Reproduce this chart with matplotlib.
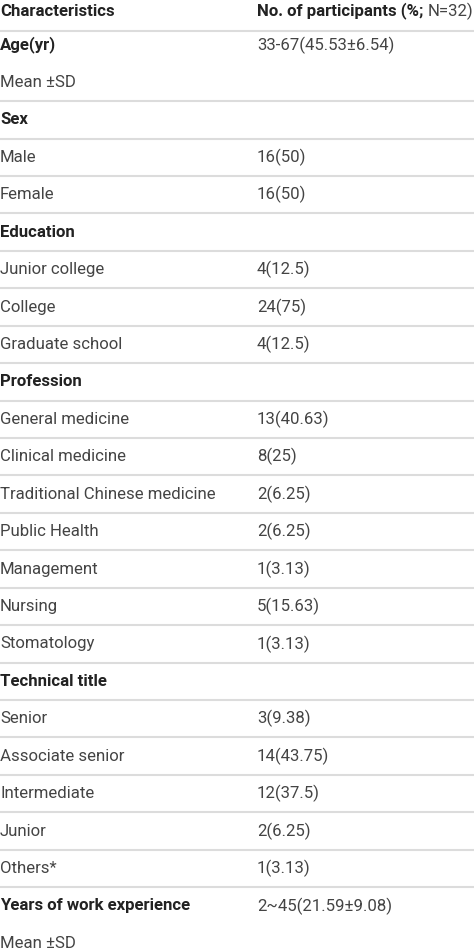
import matplotlib
matplotlib.use("Agg")
import matplotlib.pyplot as plt

plt.rcParams['font.family'] = ['Roboto', 'DejaVu Sans']

labels = ["Age(yr)", "Mean ±SD", "Sex", "Male", "Female", "Education",
          "Junior college", "College", "Graduate school", "Profession",
          "General medicine", "Clinical medicine", "Traditional Chinese medicine",
          "Public Health", "Management", "Nursing", "Stomatology",
          "Technical title", "Senior", "Associate senior", "Intermediate",
          "Junior", "Others*", "Years of work experience", "Mean ±SD"]
values = ["33-67(45.53±6.54)", "", "", "16(50)", "16(50)", "",
          "4(12.5)", "24(75)", "4(12.5)", "",
          "13(40.63)", "8(25)", "2(6.25)", "2(6.25)", "1(3.13)", "5(15.63)", "1(3.13)",
          "", "3(9.38)", "14(43.75)", "12(37.5)", "2(6.25)", "1(3.13)",
          "2~45(21.59±9.08)", ""]
bold_rows = {"Age(yr)", "Sex", "Education", "Profession", "Technical title",
             "Years of work experience"}

W, H = 474, 950
fig = plt.figure(figsize=(W / 100, H / 100), dpi=100)
ax = fig.add_axes([0, 0, 1, 1])
ax.set_xlim(0, W)
ax.set_ylim(H, 0)
ax.axis("off")

fs = 12.1
x1, x2 = 0, 257
line_c = "#dcdcdc"

ax.text(x1, 11, "Characteristics", fontsize=fs, fontweight="bold", color="#222222", va="center")
t = ax.text(x2, 11, "No. of participants (%; ", fontsize=fs, fontweight="bold", color="#222222", va="center")
fig.canvas.draw()
bb = t.get_window_extent()
ax.text(bb.x1, 11, "N=32)", fontsize=fs, color="#444444", va="center")
ax.axhline(30.5, color=line_c, lw=1.5)

row_h = 37.43
y0 = 45
for i, (lab, val) in enumerate(zip(labels, values)):
    y = y0 + i * row_h
    b = lab in bold_rows
    ax.text(x1, y, lab, fontsize=fs, fontweight="bold" if b else "normal",
            color="#222222" if b else "#444444", va="center")
    if val:
        ax.text(x2, y, val, fontsize=fs, color="#444444", va="center")
    # separator below each row, except inside the "Mean ±SD" pairs
    if lab not in ("Age(yr)", "Years of work experience") and i < len(labels) - 1:
        ax.axhline(y + row_h / 2, color=line_c, lw=1.5)

fig.savefig("out.png", dpi=100)
